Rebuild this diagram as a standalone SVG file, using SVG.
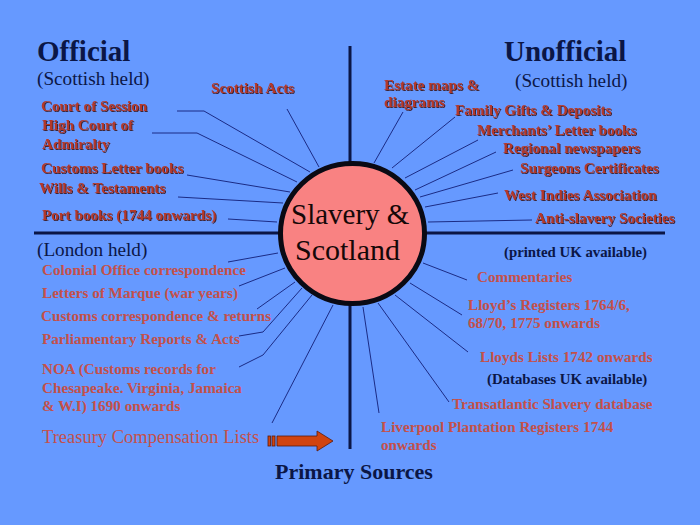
<svg xmlns="http://www.w3.org/2000/svg" width="700" height="525" viewBox="0 0 700 525" font-family="'Liberation Serif', serif">
<defs>
<style>
text{font-family:"Liberation Serif","Times New Roman",serif;}
.h{fill:#0B1646;font-weight:bold;font-size:29px;}
.s{fill:#0B1646;font-size:19.2px;}
.a{fill:#0B1646;font-weight:bold;font-size:14.8px;}
.t{fill:#B4392A;font-weight:bold;font-size:15.2px;filter:url(#sh);}
.b{fill:#C4504A;font-weight:bold;font-size:15.2px;}
.big{fill:#C4504A;font-size:18.5px;}
.c{fill:#150808;font-size:29px;}
.ps{fill:#0B1646;font-weight:bold;font-size:22px;}
.ln{stroke:#1B2B85;stroke-width:1;fill:none;}
.ax{stroke:#0B1646;stroke-width:3;fill:none;}
</style>
<filter id="sh" x="-5%" y="-20%" width="110%" height="140%">
<feDropShadow dx="1" dy="1" stdDeviation="0.3" flood-color="#3A0E08" flood-opacity="0.85"/>
</filter>
</defs>
<rect x="0" y="0" width="700" height="525" fill="#6699FF"/>

<g id="axes">
<line class="ax" x1="350" y1="46" x2="350" y2="449"/>
<line class="ax" x1="34" y1="233" x2="665" y2="233"/>
</g>

<g id="connectors">
<polyline class="ln" points="287,109 319,167"/>
<polyline class="ln" points="177,111 204,111 310,172"/>
<polyline class="ln" points="152,133 197,133 297,182"/>
<polyline class="ln" points="187,175 290,192"/>
<polyline class="ln" points="178,197 283,203"/>
<polyline class="ln" points="228,219 277,222"/>
<polyline class="ln" points="403,112 374,163"/>
<polyline class="ln" points="455,117 392,168"/>
<polyline class="ln" points="478,140 405,178"/>
<polyline class="ln" points="496,152 415,190"/>
<polyline class="ln" points="513,170 420,197"/>
<polyline class="ln" points="498,193 425,207"/>
<polyline class="ln" points="532,220 428,222"/>
<polyline class="ln" points="228,262 278,253"/>
<polyline class="ln" points="239,286 285,268"/>
<polyline class="ln" points="257,309 295,282"/>
<polyline class="ln" points="239,336 263,332 302,288"/>
<polyline class="ln" points="239,367 263,355 312,295"/>
<polyline class="ln" points="272,423 333,305"/>
<polyline class="ln" points="423,263 467,280"/>
<polyline class="ln" points="410,283 462,315"/>
<polyline class="ln" points="395,295 468,352"/>
<polyline class="ln" points="378,303 449,402"/>
<polyline class="ln" points="363,307 379,413"/>
</g>

<g id="centre">
<ellipse cx="352.5" cy="233.5" rx="72" ry="70" fill="#F98282" stroke="#0A0A14" stroke-width="5"/>
<text class="c" x="291" y="224">Slavery &amp;</text>
<text class="c" x="295" y="260" style="font-size:30px">Scotland</text>
</g>

<g id="heading-official">
<text class="h" x="37" y="61">Official</text>
<text class="s" x="37" y="85">(Scottish held)</text>
</g>
<g id="heading-unofficial">
<text class="h" x="504" y="61">Unofficial</text>
<text class="s" x="515" y="87">(Scottish held)</text>
</g>
<g id="heading-london"><text class="s" x="37" y="256">(London held)</text></g>
<g id="heading-printed"><text class="a" x="504" y="257">(printed UK available)</text></g>
<g id="heading-databases"><text class="a" x="487" y="384">(Databases UK available)</text></g>

<g id="scottish-acts"><text class="t" x="211" y="93">Scottish Acts</text></g>
<g id="court-of-session"><text class="t" x="41" y="111">Court of Session</text></g>
<g id="high-court"><text class="t" x="42" y="130">High Court of</text><text class="t" x="42" y="149">Admiralty</text></g>
<g id="customs-letter-books"><text class="t" x="41" y="173">Customs Letter books</text></g>
<g id="wills"><text class="t" x="39" y="193">Wills &amp; Testaments</text></g>
<g id="port-books"><text class="t" x="42" y="220">Port books (1744 onwards)</text></g>

<g id="estate-maps"><text class="t" x="384" y="90">Estate maps &amp;</text><text class="t" x="384" y="107">diagrams</text></g>
<g id="family-gifts"><text class="t" x="455" y="115">Family Gifts &amp; Deposits</text></g>
<g id="merchants"><text class="t" x="477" y="135">Merchants’ Letter books</text></g>
<g id="regional"><text class="t" x="503" y="153">Regional newspapers</text></g>
<g id="surgeons"><text class="t" x="520" y="173">Surgeons Certificates</text></g>
<g id="west-indies"><text class="t" x="504" y="200">West Indies Association</text></g>
<g id="anti-slavery"><text class="t" x="535" y="223">Anti-slavery Societies</text></g>

<g id="colonial-office"><text class="b" x="42" y="275">Colonial Office correspondence</text></g>
<g id="letters-marque"><text class="b" x="42" y="298">Letters of Marque (war years)</text></g>
<g id="customs-corr"><text class="b" x="41" y="321">Customs correspondence &amp; returns</text></g>
<g id="parliamentary"><text class="b" x="42" y="344">Parliamentary Reports &amp; Acts</text></g>
<g id="noa"><text class="b" x="42" y="374">NOA (Customs records for</text><text class="b" x="42" y="393">Chesapeake. Virginia, Jamaica</text><text class="b" x="42" y="411">&amp; W.I) 1690 onwards</text></g>
<g id="treasury"><text class="big" x="42" y="443">Treasury Compensation Lists</text></g>

<g id="commentaries"><text class="b" x="477" y="282">Commentaries</text></g>
<g id="lloyds-registers"><text class="b" x="468" y="310">Lloyd’s Registers 1764/6,</text><text class="b" x="468" y="328">68/70, 1775 onwards</text></g>
<g id="lloyds-lists"><text class="b" x="480" y="362">Lloyds Lists 1742 onwards</text></g>
<g id="transatlantic"><text class="b" x="452" y="409">Transatlantic Slavery database</text></g>
<g id="liverpool"><text class="b" x="381" y="432">Liverpool Plantation Registers 1744</text><text class="b" x="381" y="450">onwards</text></g>

<g id="arrow">
<rect x="268" y="436" width="2.5" height="10" fill="#D0440F" stroke="#5A1A0A" stroke-width="0.8"/>
<rect x="272" y="436" width="3" height="10" fill="#D0440F" stroke="#5A1A0A" stroke-width="0.8"/>
<path d="M277,436 H317 V431 L333,441 L317,451 V446 H277 Z" fill="#D0440F" stroke="#5A1A0A" stroke-width="0.8"/>
</g>

<g id="primary-sources"><text class="ps" x="275" y="479">Primary Sources</text></g>
</svg>
